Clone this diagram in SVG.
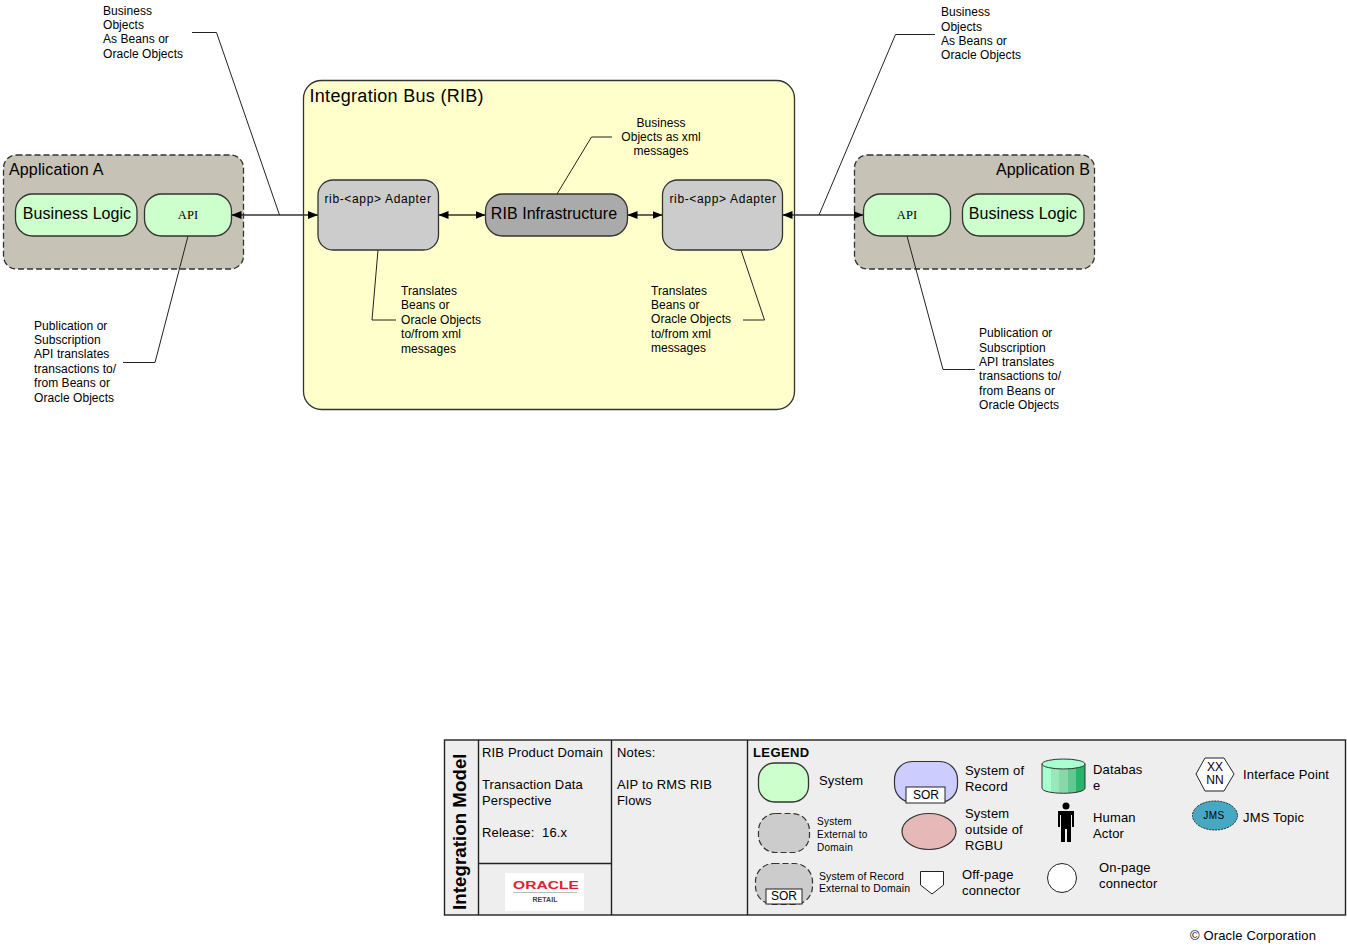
<svg xmlns="http://www.w3.org/2000/svg" width="1347" height="950" viewBox="0 0 1347 950">
<style>
text{font-family:"Liberation Sans",Arial,sans-serif;font-size:12px;fill:#000;letter-spacing:.05px}
.b{font-size:16px}.a{font-size:16px;letter-spacing:.15px}.big{font-size:18px;letter-spacing:.3px}.s{font-size:10px;letter-spacing:.25px}.r{font-size:10.500px;letter-spacing:.1px}.m{font-size:13px;letter-spacing:.15px}
.ad-t{letter-spacing:.65px;text-anchor:middle}
.ctr{text-anchor:middle}
.api{font-family:"Liberation Serif","Times New Roman",serif;font-size:12.500px;text-anchor:middle}
.sys{fill:#ccffcc;stroke:#333;stroke-width:1.3}
.app{fill:#c6c2b6;stroke:#333;stroke-width:1.3;stroke-dasharray:6 3}
.ad{fill:#cccccc;stroke:#333;stroke-width:1.3}
.ln{fill:none;stroke:#222;stroke-width:1}
.ar{fill:none;stroke:#333;stroke-width:1.3;marker-start:url(#a);marker-end:url(#a)}
.dash{fill:#cccccc;stroke:#333;stroke-width:1.2;stroke-dasharray:6 3}
.bx{fill:#fff;stroke:#222;stroke-width:1}
.g{fill:none;stroke:#222;stroke-width:1.4}
</style>
<defs>
<marker id="a" viewBox="0 0 10 8" refX="10" refY="4" markerWidth="10" markerHeight="8" markerUnits="userSpaceOnUse" orient="auto-start-reverse"><path d="M0 0L10 4L0 8Z" fill="#000"/></marker>
<linearGradient id="cyl"><stop offset="0" stop-color="#a8ffd0"/><stop offset=".2" stop-color="#a8ffd0"/><stop offset=".2" stop-color="#98e8bc"/><stop offset=".4" stop-color="#98e8bc"/><stop offset=".4" stop-color="#88d8a8"/><stop offset=".6" stop-color="#88d8a8"/><stop offset=".6" stop-color="#60c890"/><stop offset=".8" stop-color="#60c890"/><stop offset=".8" stop-color="#28b468"/><stop offset="1" stop-color="#28b468"/></linearGradient>
</defs>
<g id="integration-bus"><rect x="303.500" y="80.500" width="491" height="329" rx="18" fill="#ffffcc" stroke="#333" stroke-width="1.300"/><text x="309.500" y="102" class="big">Integration Bus (RIB)</text></g>
<g id="application-a"><rect x="3.500" y="155" width="240" height="114" rx="13" class="app"/><text x="9" y="175" class="a">Application A</text></g>
<g id="application-b"><rect x="854.500" y="155" width="240" height="114" rx="13" class="app"/><text x="1090" y="175" class="b" text-anchor="end">Application B</text></g>
<g id="connectors">
<path class="ar" d="M231.500 215H318"/>
<path class="ar" d="M438.500 215H485.500"/>
<path class="ar" d="M627.500 215H662.500"/>
<path class="ar" d="M782.500 215H863.500"/>
<path class="ln" d="M192 32.500H216.500L279.500 215"/>
<path class="ln" d="M935 34.500H895.500L819 215"/>
<path class="ln" d="M188 236L155 362.500H123"/>
<path class="ln" d="M907 236L943 369.500H975"/>
<path class="ln" d="M378 250L372 320H396"/>
<path class="ln" d="M741 250L764.500 320H743"/>
<path class="ln" d="M557 194L591.500 137H612"/>
</g>
<g id="business-logic-a"><rect x="15.500" y="194" width="121.500" height="42" rx="17" class="sys"/><text x="77" y="219" class="b ctr">Business Logic</text></g>
<g id="api-a"><rect x="144.500" y="194" width="87" height="42" rx="17" class="sys"/><text x="188" y="219" class="api">API</text></g>
<g id="adapter-a"><rect x="318" y="180" width="120.500" height="70" rx="15" class="ad"/><text x="378" y="203" class="ad-t">rib-&lt;app&gt; Adapter</text></g>
<g id="rib-infrastructure"><rect x="485.500" y="194" width="142" height="42" rx="17" fill="#aaaaaa" stroke="#333" stroke-width="1.300"/><text x="554" y="219" class="b ctr">RIB Infrastructure</text></g>
<g id="adapter-b"><rect x="662.500" y="180" width="120" height="70" rx="15" class="ad"/><text x="723" y="203" class="ad-t">rib-&lt;app&gt; Adapter</text></g>
<g id="api-b"><rect x="863.500" y="194" width="87" height="42" rx="17" class="sys"/><text x="907" y="219" class="api">API</text></g>
<g id="business-logic-b"><rect x="962.500" y="194" width="121.500" height="42" rx="17" class="sys"/><text x="1023" y="219" class="b ctr">Business Logic</text></g>

<g id="note-top-left"><text x="103" y="15">Business</text><text x="103" y="29">Objects</text><text x="103" y="43">As Beans or</text><text x="103" y="58">Oracle Objects</text></g>
<g id="note-top-right"><text x="941" y="16">Business</text><text x="941" y="31">Objects</text><text x="941" y="45">As Beans or</text><text x="941" y="59">Oracle Objects</text></g>
<g id="note-rib"><text x="661" y="127" class="ctr">Business</text><text x="661" y="141" class="ctr">Objects as xml</text><text x="661" y="155" class="ctr">messages</text></g>
<g id="note-adapter-a"><text x="401" y="295">Translates</text><text x="401" y="309">Beans or</text><text x="401" y="324">Oracle Objects</text><text x="401" y="338">to/from xml</text><text x="401" y="353">messages</text></g>
<g id="note-adapter-b"><text x="651" y="295">Translates</text><text x="651" y="309">Beans or</text><text x="651" y="323">Oracle Objects</text><text x="651" y="338">to/from xml</text><text x="651" y="352">messages</text></g>
<g id="note-api-a"><text x="34" y="330">Publication or</text><text x="34" y="344">Subscription</text><text x="34" y="358">API translates</text><text x="34" y="373">transactions to/</text><text x="34" y="387">from Beans or</text><text x="34" y="402">Oracle Objects</text></g>
<g id="note-api-b"><text x="979" y="337">Publication or</text><text x="979" y="352">Subscription</text><text x="979" y="366">API translates</text><text x="979" y="380">transactions to/</text><text x="979" y="395">from Beans or</text><text x="979" y="409">Oracle Objects</text></g>

<g id="legend-box">
<rect x="444.500" y="740" width="901" height="175" fill="#eeeeee" stroke="#222" stroke-width="1.400"/>
<path class="g" d="M478.500 740V915M611.500 740V915M747.500 740V915M478.500 863.500H611.500"/>
<text transform="translate(465.500 910) rotate(-90)" style="font-size:18.700px;font-weight:bold">Integration Model</text>
<text x="482" y="757" class="m">RIB Product Domain</text>
<text x="482" y="789" class="m">Transaction Data</text>
<text x="482" y="805" class="m">Perspective</text>
<text x="482" y="837" class="m">Release:&#160; 16.x</text>
<text x="617" y="757" class="m">Notes:</text>
<text x="617" y="789" class="m">AIP to RMS RIB</text>
<text x="617" y="805" class="m">Flows</text>
<text x="753" y="757" class="m" style="font-weight:bold;letter-spacing:.4px">LEGEND</text>
</g>
<g id="oracle-logo"><rect x="505" y="873" width="79" height="38" fill="#fff"/><text x="546" y="888.500" class="ctr" style="font-size:11.500px;font-weight:bold;fill:#e0202a" textLength="66" lengthAdjust="spacingAndGlyphs">ORACLE</text><rect x="513" y="892" width="64" height="1" fill="#bbb"/><text x="545" y="902" class="ctr" style="font-size:7px;font-weight:bold;fill:#444">RETAIL</text></g>
<g id="legend-system"><rect x="758.500" y="763" width="50" height="39" rx="16" class="sys"/><text x="819" y="785" class="m">System</text></g>
<g id="legend-external"><rect x="758.500" y="813.500" width="51" height="39" rx="17" class="dash"/><text x="817" y="825" class="s">System</text><text x="817" y="838" class="s">External to</text><text x="817" y="851" class="s">Domain</text></g>
<g id="legend-sor-external"><rect x="755.500" y="863.500" width="57" height="41" rx="18" class="dash"/><rect x="766" y="889" width="36" height="15" class="bx"/><text x="784" y="900" class="ctr">SOR</text><text x="819" y="880" class="r">System of Record</text><text x="819" y="892" class="r">External to Domain</text></g>
<g id="legend-sor"><rect x="894.500" y="761.500" width="63" height="41" rx="18" fill="#ccccff" stroke="#333" stroke-width="1.200"/><rect x="906" y="787" width="39" height="16" class="bx"/><text x="926" y="799" class="ctr">SOR</text><text x="965" y="775" class="m">System of</text><text x="965" y="791" class="m">Record</text></g>
<g id="legend-outside"><ellipse cx="929" cy="831.500" rx="27" ry="18" fill="#e6b8b7" stroke="#333" stroke-width="1.200"/><text x="965" y="818" class="m">System</text><text x="965" y="834" class="m">outside of</text><text x="965" y="850" class="m">RGBU</text></g>
<g id="legend-offpage"><path d="M920.500 871.500H943.500V885L932 894L920.500 885Z" fill="#fff" stroke="#222"/><text x="962" y="879" class="m">Off-page</text><text x="962" y="895" class="m">connector</text></g>
<g id="legend-database"><path d="M1042 764V788C1042 795 1085 795 1085 788V764Z" fill="url(#cyl)" stroke="#333"/><ellipse cx="1063.500" cy="764" rx="21.500" ry="5" fill="#a8ffd0" stroke="#333"/><text x="1093" y="774" class="m">Databas</text><text x="1093" y="790" class="m">e</text></g>
<g id="legend-actor"><circle cx="1066" cy="806" r="3.500" fill="#000"/><path d="M1058 811H1074V827H1072V815H1071V842H1067V829H1065V842H1061V815H1060V827H1058Z" fill="#000"/><text x="1093" y="822" class="m">Human</text><text x="1093" y="838" class="m">Actor</text></g>
<g id="legend-onpage"><circle cx="1062" cy="878" r="14.500" fill="#fff" stroke="#222"/><text x="1099" y="872" class="m">On-page</text><text x="1099" y="888" class="m">connector</text></g>
<g id="legend-interface"><path d="M1196 774L1205 758H1224L1234 774L1224 791H1205Z" fill="#fff" stroke="#222"/><text x="1215" y="771" class="ctr">XX</text><text x="1215" y="784" class="ctr">NN</text><text x="1243" y="779" class="m">Interface Point</text></g>
<g id="legend-jms"><ellipse cx="1215" cy="815.500" rx="22.500" ry="14.500" fill="#47a8c4" stroke="#222" stroke-dasharray="2 1"/><text x="1214" y="819" class="ctr s" style="letter-spacing:.5px">JMS</text><text x="1243" y="822" class="m">JMS Topic</text></g>
<text id="copyright" x="1190" y="940" class="m">© Oracle Corporation</text>
</svg>
